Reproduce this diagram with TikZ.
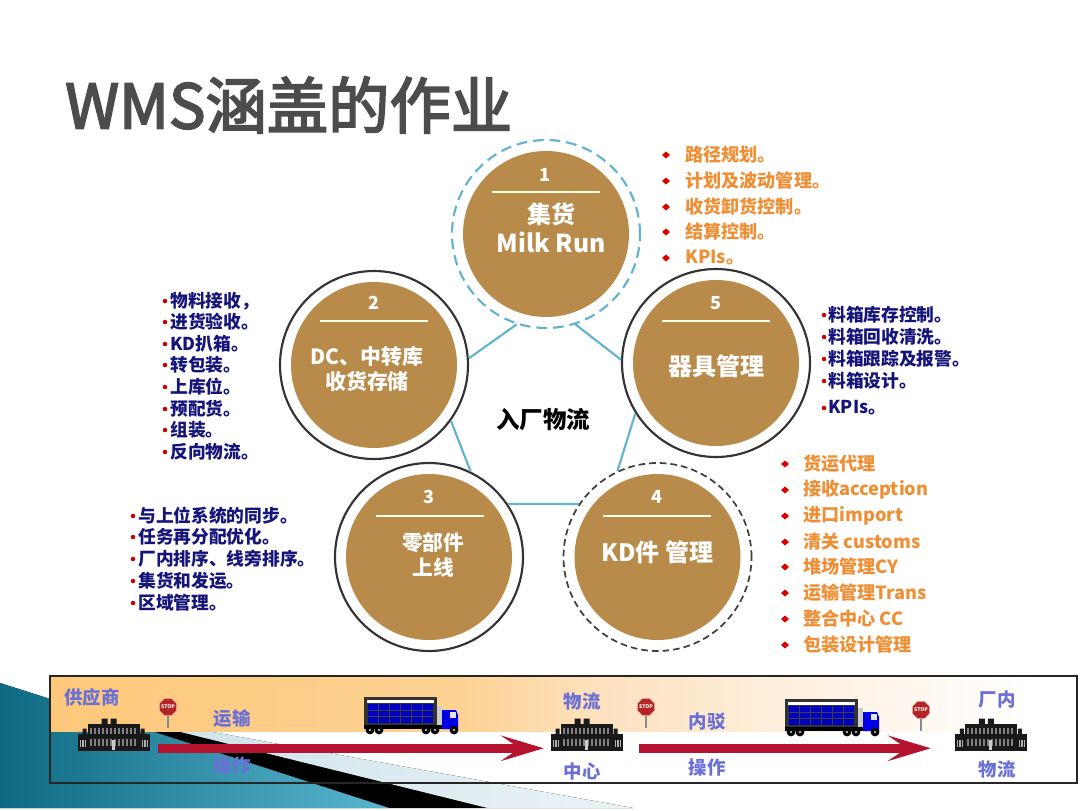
\documentclass[tikz,border=0pt]{standalone}
\usepackage{fontspec}
\setmainfont{Noto Sans CJK SC}
\newfontfamily\titlefont[FakeBold=3]{Noto Sans CJK SC}
\usetikzlibrary{arrows.meta,calc,shapes.geometric}
\definecolor{brown1}{HTML}{B98B4A}
\definecolor{navy1}{HTML}{14147A}
\definecolor{orange1}{HTML}{EE8F35}
\definecolor{flowblue}{HTML}{6A70D6}
\definecolor{linkblue}{HTML}{62B3CF}
\definecolor{redarrow}{HTML}{B5122E}
\definecolor{bandA}{HTML}{FDC87A}
\definecolor{bandB}{HTML}{FDD294}
\definecolor{bandC}{HTML}{FDE2C0}
\definecolor{bandD}{HTML}{FEF5EA}
\definecolor{tealA}{HTML}{0E6A82}
\definecolor{tealB}{HTML}{58B6CE}
\definecolor{paleA}{HTML}{CFE3EA}
\definecolor{paleB}{HTML}{EAF4F7}
\pgfdeclarehorizontalshading{bandshade}{100bp}{color(0bp)=(bandA);
 color(25bp)=(bandA); color(45bp)=(bandB); color(52bp)=(bandC); color(65bp)=(bandD); color(73bp)=(white); color(100bp)=(white)}
\tikzset{
 x=0.75pt,y=-0.75pt,
 ringbase/.style={circle,minimum size=141pt,inner sep=0pt,fill=white,line width=1.6pt},
 ringsolid/.style={ringbase,draw=black!80},
 ringcyan/.style={ringbase,draw=linkblue,dash pattern=on 8pt off 4.5pt},
 ringdark/.style={ringbase,draw=black!75,dash pattern=on 5pt off 3pt,line width=1.3pt},
 disc/.style={circle,minimum size=124.5pt,inner sep=0pt,fill=brown1},
 num/.style={text=white,font=\fontsize{13.5pt}{15pt}\selectfont\bfseries,inner sep=0pt},
 disctext/.style={text=white,font=\bfseries,align=center,inner sep=0pt},
 rule/.style={draw=white!90!yellow,line width=0.9pt},
 link/.style={draw=linkblue,line width=1.6pt},
 bluelist/.style={anchor=west,inner sep=0pt,text=navy1,font=\fontsize{13.3pt}{14pt}\selectfont\bfseries},
 orangelist/.style={anchor=west,inner sep=0pt,text=orange1,font=\fontsize{13.6pt}{14pt}\selectfont\bfseries},
 flowlabel/.style={inner sep=0pt,text=flowblue,font=\fontsize{13.8pt}{15pt}\selectfont\bfseries},
 flowarrow/.style={draw=redarrow,line width=6.75pt,-{Stealth[length=32pt,width=19pt,inset=14pt,fill=redarrow]}},
 bldbox/.style={minimum width=54pt,minimum height=24pt,inner sep=0pt},
 bldg/.pic={
  \fill[black!90] (10,5) rectangle (62,31);
  \fill[black!90] (0,15) rectangle (72,32);
  \fill[black!90] (24,0) rectangle (30,6) (33,0) rectangle (39,6) (63,10) rectangle (67,16) (5,10) rectangle (9,16);
  \foreach \i in {0,...,11}{
    \fill[black!50] (12+\i*4,9) rectangle ++(2.4,6);
    \fill[black!50] (12+\i*4,20) rectangle ++(2.4,7);
  }
  \foreach \i in {0,1,2}{
    \fill[black!30] (2+\i*2.6,21) rectangle ++(1.5,7);
    \fill[black!30] (64+\i*2.6,21) rectangle ++(1.5,7);
  }
  \fill[black!20] (34,21) rectangle (37,31);
 },
 truck/.pic={
  \fill[black!80] (0,0) rectangle (73,31);
  \fill[white] (3,3) rectangle (70,5.5);
  \fill[black!20] (73,9) rectangle (78,28);
  \fill[blue!75!black] (4,7) rectangle (69,26);
  \foreach \i in {1,...,5} \draw[black!75,line width=0.5pt] (4+\i*10.8,7) -- (4+\i*10.8,26);
  \foreach \i in {1,2} \draw[black!75,line width=0.5pt] (4,7+\i*6.3) -- (69,7+\i*6.3);
  \fill[black] (0,28) rectangle (92,32);
  \fill[blue!90!black] (78,13) -- (92,13) -- (94,18) -- (94,32) -- (78,32) -- cycle;
  \fill[black!10] (86,15) rectangle (92,21);
  \foreach \p in {6,15,62,71,90}{
    \fill[black] (\p,33) circle (3.3pt);
    \fill[black!30] (\p,33) circle (1pt);
  }
 },
 stopsign/.pic={
  \draw[black!45,line width=1.4pt] (0,0) -- (0,20);
  \node[regular polygon,regular polygon sides=8,fill=red!65!black!85!white,draw=red!30!white,line width=0.3pt,minimum size=14pt,inner sep=0pt] (-plate) at (0,-1) {};
  \node[inner sep=0pt,text=white,font=\fontsize{3.8pt}{4pt}\selectfont\bfseries] (-word) at (0,-1) {STOP};
 },
}
\newcommand{\orangeitem}[3]{%
 \fill[red!85!black] (#1-4,#3) -- (#1,#3-3.5) -- (#1+4,#3) -- (#1,#3+3.5) -- cycle;}
\newcommand{\blueitem}[3]{%
 \fill[red!80!black] (#1,#3) circle (1.7pt);}
\begin{document}
\begin{tikzpicture}
\useasboundingbox (0,0) rectangle (1080,810);
\fill[white] (0,0) rectangle (1080,810);
% background wedges
\fill[left color=paleA,right color=paleB] (176,731) -- (207,731) -- (633,808) -- (487,808) -- cycle;
\fill[black] (151,731) -- (176,731) -- (487,808) -- (389,808) -- cycle;
\fill[left color=tealA,right color=tealB] (0,683) -- (151,731) -- (389,808) -- (0,808) -- cycle;
% flow band
\fill[shading=bandshade] (50,676) rectangle (1077,731);
\draw[black!85,line width=1.3pt] (50,676) rectangle (1077,783);
% title
\node[anchor=west,inner sep=0pt,text=black!70,font=\fontsize{46pt}{50pt}\titlefont] (title) at (65,105) {WMS涵盖的作业};
% circles
\node[ringcyan] (c1) at (546,234) {};
\node[ringsolid] (c2) at (374,365) {};
\node[ringsolid] (c3) at (429,557) {};
\node[ringdark] (c4) at (657.5,557) {};
\node[ringsolid] (c5) at (716,363) {};
\draw[link] (c1.252) -- (c2.4);
\draw[link] (c1.288) -- (c5.178);
\draw[link] (c2.324) -- (c3.64);
\draw[link] (c3.34) -- (c4.146);
\draw[link] (c4.115) -- (c5.212);
\foreach \n in {1,...,5} \node[disc] (d\n) at (c\n) {};
\node[num] (n1) at (545,175) {1};
\draw[rule] (492,192) -- (600,192);
\node[disctext,font=\fontsize{18pt}{20pt}\selectfont\bfseries] (t1a) at (551,214) {集货};
\node[disctext,font=\fontsize{18.5pt}{20pt}\selectfont\bfseries] (t1b) at (551,242) {Milk Run};
\node[num] (n2) at (374,303) {2};
\draw[rule] (320,321) -- (428,321);
\node[disctext,font=\fontsize{15.7pt}{17pt}\selectfont\bfseries] (t2a) at (367,357) {DC、中转库};
\node[disctext,font=\fontsize{15.7pt}{17pt}\selectfont\bfseries] (t2b) at (367,381) {收货存储};
\node[num] (n3) at (429,497) {3};
\draw[rule] (376,516) -- (484,516);
\node[disctext,font=\fontsize{15.5pt}{17pt}\selectfont\bfseries] (t3a) at (433,543) {零部件};
\node[disctext,font=\fontsize{15.5pt}{17pt}\selectfont\bfseries] (t3b) at (433,568) {上线};
\node[num] (n4) at (657,497) {4};
\draw[rule] (603,516) -- (711,516);
\node[disctext,font=\fontsize{18pt}{20pt}\selectfont\bfseries] (t4) at (657,552) {KD件 管理};
\node[num] (n5) at (716,303) {5};
\draw[rule] (662,321) -- (770,321);
\node[disctext,font=\fontsize{18pt}{20pt}\selectfont\bfseries] (t5) at (716,366) {器具管理};
\node[inner sep=0pt,text=black,font=\fontsize{17.6pt}{19pt}\selectfont\bfseries] (center) at (543,420) {入厂物流};
% lists
\foreach \ty/\tx [count=\i] in {155/路径规划。,181/计划及波动管理。,207/收货卸货控制。,232/结算控制。,258/KPIs。}{
 \orangeitem{666}{685}{\ty}
 \node[orangelist] (la\i) at (685,\ty) {\tx};}
\foreach \ty/\tx [count=\i] in {315/料箱库存控制。,337/料箱回收清洗。,359/料箱跟踪及报警。,381/料箱设计。,408/KPIs。}{
 \blueitem{824}{828}{\ty}
 \node[bluelist] (lb\i) at (828,\ty) {\tx};}
\foreach \ty/\tx [count=\i] in {301/{物料接收，},322/进货验收。,344/KD扒箱。,365/转包装。,387/上库位。,409/预配货。,430/组装。,452/反向物流。}{
 \blueitem{165}{170}{\ty}
 \node[bluelist] (lc\i) at (170,\ty) {\tx};}
\foreach \ty/\tx [count=\i] in {516/与上位系统的同步。,537/任务再分配优化。,559/厂内排序、线旁排序。,581/集货和发运。,603/区域管理。}{
 \blueitem{133}{138}{\ty}
 \node[bluelist] (ld\i) at (138,\ty) {\tx};}
\foreach \ty/\tx [count=\i] in {464/货运代理,490/接收acception,516/进口import,542/清关 customs,567/堆场管理CY,593/运输管理Trans,619/整合中心 CC,645/包装设计管理}{
 \orangeitem{785}{803}{\ty}
 \node[orangelist] (le\i) at (803,\ty) {\tx};}
% flow
\node[bldbox] (b1) at (114,735) {};
\node[bldbox] (b2) at (587,735) {};
\node[bldbox] (b3) at (991,735) {};
\pic at (b1.north west) {bldg};
\pic at (b2.north west) {bldg};
\pic at (b3.north west) {bldg};
\draw[flowarrow] ($(b1.south east)+(8,-3)$) -- ($(b2.south west)+(-7,-3)$);
\draw[flowarrow] ($(b2.south east)+(16,-3)$) -- ($(b3.south west)+(-24,-3)$);
\pic at (364,697) {truck};
\pic at (785,699) {truck};
\pic (s1) at (168,708) {stopsign};
\pic (s2) at (646,708) {stopsign};
\pic (s3) at (921,711) {stopsign};
\node[flowlabel] (f1) at (92,697) {供应商};
\node[flowlabel] (f2) at (232,719) {运输};
\node[flowlabel] (f3) at (232,766) {操作};
\node[flowlabel] (f4) at (582,701) {物流};
\node[flowlabel] (f5) at (582,771) {中心};
\node[flowlabel] (f6) at (707,722) {内驳};
\node[flowlabel] (f7) at (707,768) {操作};
\node[flowlabel] (f8) at (997,700) {厂内};
\node[flowlabel] (f9) at (997,769) {物流};
\end{tikzpicture}
\end{document}
